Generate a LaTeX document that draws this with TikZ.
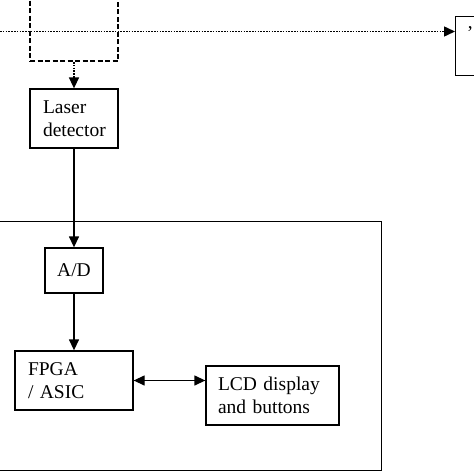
\documentclass[tikz,border=0pt]{standalone}
\usepackage{fontspec}
\setmainfont{Liberation Serif}
\usetikzlibrary{arrows.meta}
\begin{document}
\begin{tikzpicture}[x=1pt,y=-1pt,
  box/.style={draw,line width=1.3pt,rectangle,inner xsep=0pt,inner ysep=0pt,
    font=\fontsize{19.5}{22.5}\selectfont,align=left},
  arr/.style={line width=1.3pt,-{Triangle[length=11pt,width=10pt]}},
  dotln/.style={line width=1.5pt,dash pattern=on 1.5pt off 1.3pt},
]
\useasboundingbox (0,0) rectangle (474,474);
\clip (0,0) rectangle (474,474);
% dashed source box
\node[draw,line width=2pt,dash pattern=on 5pt off 2.5pt,minimum width=88pt,minimum height=66pt,inner sep=0pt] (src) at (74,28) {};
% right box (cut at edge)
\node[draw,line width=1.3pt,minimum width=40pt,minimum height=59pt,inner sep=0pt,anchor=north west] (tgt) at (455,16) {};
\node[font=\fontsize{19.5}{22.5}\selectfont,inner sep=0pt] (mark) at (470,33) {'};
% dotted beam
\coordinate (beamstart) at (0,31.5);
\draw[dotln,-{Triangle[length=11pt,width=10pt]}] (beamstart) -- (beamstart -| tgt.west);
% laser detector
\node[box,minimum width=88pt,minimum height=59pt,text width=62pt,inner xsep=13pt] (det) at (74,118.5) {Laser\\detector};
\draw[dotln,-{Triangle[length=11pt,width=10pt]}] (src.south) -- (det.north);
% system box
\node[draw,line width=1.4pt,minimum width=392pt,minimum height=249pt,inner sep=0pt,anchor=north east] (sys) at (382,221) {};
% A/D
\node[box,minimum width=58pt,minimum height=45pt,align=center] (ad) at (74,270.5) {A/D};
\draw[arr] (det.south) -- (ad.north);
% FPGA
\node[box,minimum width=118pt,minimum height=59pt,text width=92pt,inner xsep=13pt] (fpga) at (74,380.5) {FPGA\\/ ASIC};
\draw[arr] (ad.south) -- (fpga.north);
% LCD
\node[box,minimum width=133pt,minimum height=59pt,text width=109pt,inner xsep=12pt] (lcd) at (272.5,395.5) {LCD display\\and buttons};
\draw[line width=1.3pt,{Triangle[length=11pt,width=10pt]}-{Triangle[length=11pt,width=10pt]}] (fpga.east) -- (fpga.east -| lcd.west);
\end{tikzpicture}
\end{document}
